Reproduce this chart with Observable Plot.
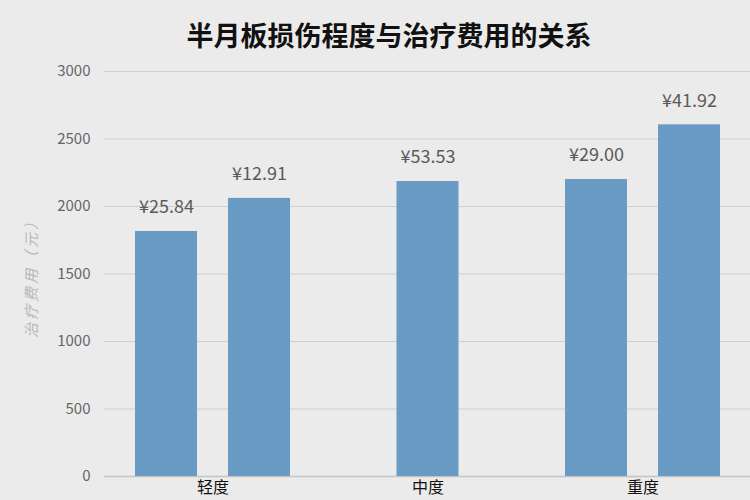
<!DOCTYPE html>
<html>
<head>
<meta charset="utf-8">
<script src="https://cdn.jsdelivr.net/npm/d3@7"></script>
<script src="https://cdn.jsdelivr.net/npm/@observablehq/plot@0.6"></script>
<style>
  html, body { margin: 0; padding: 0; background: #ebebeb; overflow: hidden; }
  body { width: 750px; height: 500px; font-family: "Noto Sans CJK SC", "Noto Sans", sans-serif; }
  #title { height: 60px; line-height: 70px; text-align: center; font-size: 27px; font-weight: bold; color: #111; padding-left: 28px; box-sizing: border-box; }
  #chart { position: relative; }
  #ylabel { position: absolute; left: 30px; top: 215px; transform: translate(-50%, -50%) rotate(-90deg); font-size: 15px; letter-spacing: 3px; color: #b8b8b8; font-style: italic; white-space: nowrap; }
</style>
</head>
<body>
<div id="title">半月板损伤程度与治疗费用的关系</div>
<div id="chart"><div id="ylabel">治疗费用（元）</div></div>
<script>
const categories = ["轻度", "中度", "重度"];
const barCategory = ["轻度", "轻度", "中度", "重度", "重度"];
const barSlot = ["left", "right", "center", "left", "right"];
const barValues = [1815, 2060, 2185, 2200, 2605];
const barLabels = ["¥25.84", "¥12.91", "¥53.53", "¥29.00", "¥41.92"];
const yTicks = [0, 500, 1000, 1500, 2000, 2500, 3000];

const rows = barValues.map((v, i) => ({category: barCategory[i], slot: barSlot[i], value: v, label: barLabels[i]}));
const offsets = {left: -46.5, center: 0, right: 46.5};
const inset = (216 - 63) / 2;
const barColor = "#6a9bc5";

const marks = [
  Plot.gridY(yTicks, {stroke: "#cfcfcf", strokeOpacity: 1, strokeWidth: 1}),
  Plot.ruleY([0], {stroke: "#c4c4c4", strokeWidth: 1.5})
];
for (const slot of ["left", "center", "right"]) {
  const sub = rows.filter(d => d.slot === slot);
  marks.push(Plot.barY(sub, {x: "category", y: "value", fill: barColor, insetLeft: inset, insetRight: inset, dx: offsets[slot]}));
  marks.push(Plot.text(sub, {x: "category", y: "value", text: "label", dx: offsets[slot], dy: -24, fill: "#5a5a5a", fontSize: 18, lineAnchor: "middle"}));
}

const chart = Plot.plot({
  width: 750,
  height: 440,
  marginTop: 11,
  marginBottom: 24,
  marginLeft: 104,
  marginRight: 0,
  style: {background: "transparent", fontFamily: "'Noto Sans CJK SC', 'Noto Sans', sans-serif", overflow: "visible"},
  x: {domain: categories, padding: 0, label: null},
  y: {domain: [0, 3000], ticks: yTicks, label: null},
  marks: [
    ...marks,
    Plot.axisX({tickSize: 0, tickPadding: 5, fontSize: 16, fill: "#111", label: null}),
    Plot.axisY(yTicks, {tickSize: 0, tickPadding: 14, fontSize: 15, fill: "#666", label: null, tickFormat: d => String(d)})
  ]
});
document.getElementById("chart").appendChild(chart);
</script>
</body>
</html>
